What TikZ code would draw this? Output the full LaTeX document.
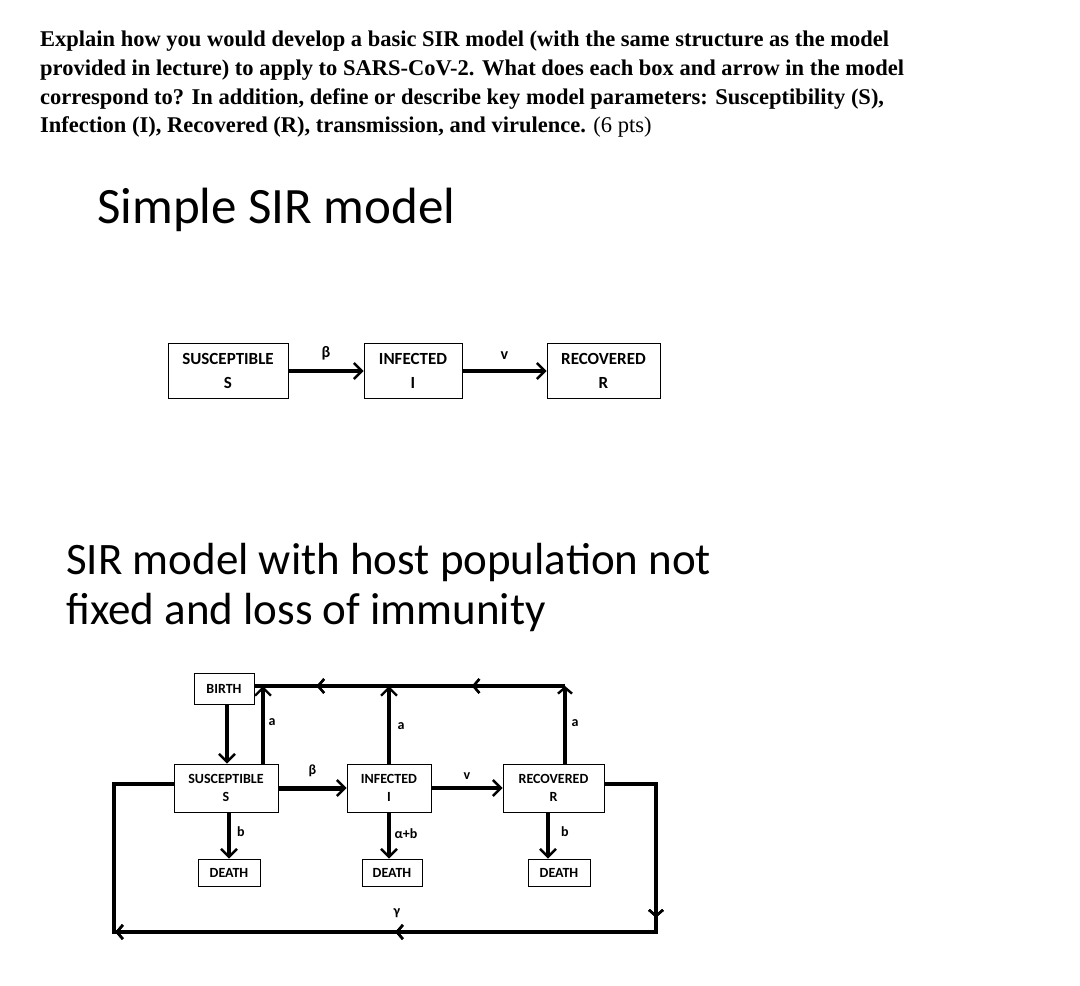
\documentclass[tikz,border=0pt]{standalone}
\usepackage{fontspec}
\setmainfont{Liberation Serif}
\newfontfamily\calfont{Carlito}
\usetikzlibrary{arrows.meta,decorations.markings}
\tikzset{
 box/.style={draw,line width=0.8pt,inner sep=0pt,font=\calfont\bfseries\fontsize{14}{18}\selectfont,align=center},
 bigbox/.style={box,font=\calfont\bfseries\fontsize{17}{24}\selectfont},
 tipb/.tip={Straight Barb[length=8pt,width=16pt,line width=2.4pt]},
 arr/.style={line width=3.6pt,-tipb},
 lbl/.style={font=\calfont\bfseries\fontsize{14}{16}\selectfont},
 mid/.style={postaction=decorate,decoration={markings,mark=at position #1 with {\arrow{Straight Barb[length=6pt,width=14pt,line width=2.4pt]}}}},
 ln/.style={line width=3.6pt}}
\begin{document}
\begin{tikzpicture}[x=1pt,y=-1pt]
\useasboundingbox (0,0) rectangle (1080,986);
\node[anchor=north west,align=left,font=\bfseries\fontsize{22.5}{28.7}\selectfont,inner sep=0pt] (q) at (40,31)
{Explain how you would develop a basic SIR model (with the same structure as the model\\
provided in lecture) to apply to SARS-CoV-2. What does each box and arrow in the model\\
correspond to? In addition, define or describe key model parameters: Susceptibility (S),\\
Infection (I), Recovered (R), transmission, and virulence. {\mdseries(6 pts)}};
\node[anchor=west,font=\calfont\fontsize{51}{56}\selectfont,inner sep=0pt] (t1) at (97,210) {Simple SIR model};
\node[anchor=north west,align=left,font=\calfont\fontsize{45}{50}\selectfont,inner sep=0pt] (t2) at (66,543) {SIR model with host population not\\fixed and loss of immunity};
% top diagram
\node[bigbox,minimum width=120pt,minimum height=55pt] (s1) at (228,371) {SUSCEPTIBLE\\S};
\node[bigbox,minimum width=98pt,minimum height=55pt] (i1) at (413,371) {INFECTED\\I};
\node[bigbox,minimum width=113pt,minimum height=55pt] (r1) at (603.5,371) {RECOVERED\\R};
\draw[arr] (s1) -- (i1) node[lbl,font=\calfont\bfseries\fontsize{16}{18}\selectfont,midway,above=6pt] (b1) {β};
\draw[arr] (i1) -- (r1) node[lbl,font=\calfont\bfseries\fontsize{16}{18}\selectfont,midway,above=6pt] (v1) {v};
% bottom diagram
\node[box,minimum width=104pt,minimum height=48pt] (s) at (226,788) {SUSCEPTIBLE\\S};
\node[box,minimum width=84pt,minimum height=48pt] (i) at (389,788) {INFECTED\\I};
\node[box,minimum width=101pt,minimum height=48pt] (r) at (553.5,788) {RECOVERED\\R};
\node[box,minimum width=60pt,minimum height=31pt] (bi) at (224,688.5) {BIRTH};
\node[box,minimum width=62pt,minimum height=27pt] (d1) at (229,872.5) {DEATH};
\node[box,minimum width=60pt,minimum height=27pt] (d2) at (392,872.5) {DEATH};
\node[box,minimum width=62pt,minimum height=27pt] (d3) at (559,872.5) {DEATH};
\coordinate (tr) at (565,686);
\coordinate (tl) at (bi.east |- tr);
\coordinate (xa) at (263,0);
\coordinate (xb) at (227,0);
\coordinate (xr) at (548,0);
\draw[ln,mid=0.3,mid=0.8] (tr) -- (tl);
\draw[ln,-{Straight Barb[length=6pt,width=14pt,line width=2.4pt]}] (r.north -| tr) -- (tr);
\draw[arr] (s.north -| xa) -- (xa |- tr);
\draw[arr] (i.north) -- (i.north |- tr);
\draw[arr] (bi.south -| xb) -- (s.north -| xb);
\node[lbl] (a1) at (272,722) {a};
\node[lbl] (a2) at (401,726) {a};
\node[lbl] (a3) at (575,723) {a};
\draw[arr,line width=5pt] (s) -- (i) node[lbl,midway,above=5pt] (b2) {β};
\draw[arr] (i) -- (r) node[lbl,midway,above=3pt] (v2) {v};
\draw[arr] (s.south -| d1) -- (d1);
\draw[arr] (i.south) -- (d2.north -| i.south);
\draw[arr] (r.south -| xr) -- (d3.north -| xr);
\node[lbl] (bb1) at (241,832) {b};
\node[lbl] (ab) at (406,834) {α+b};
\node[lbl] (bb3) at (565,832) {b};
\coordinate (ol) at (114,784);
\coordinate (bl) at (114,932);
\coordinate (br) at (656,932);
\coordinate (or) at (656,784);
\draw[ln,mid=0.195,mid=0.485,mid=0.78] (r.east |- or) -- (or) -- (br) -- (bl) -- (ol) -- (s.west |- ol);
\node[lbl] (g) at (397,913) {γ};
\end{tikzpicture}
\end{document}
